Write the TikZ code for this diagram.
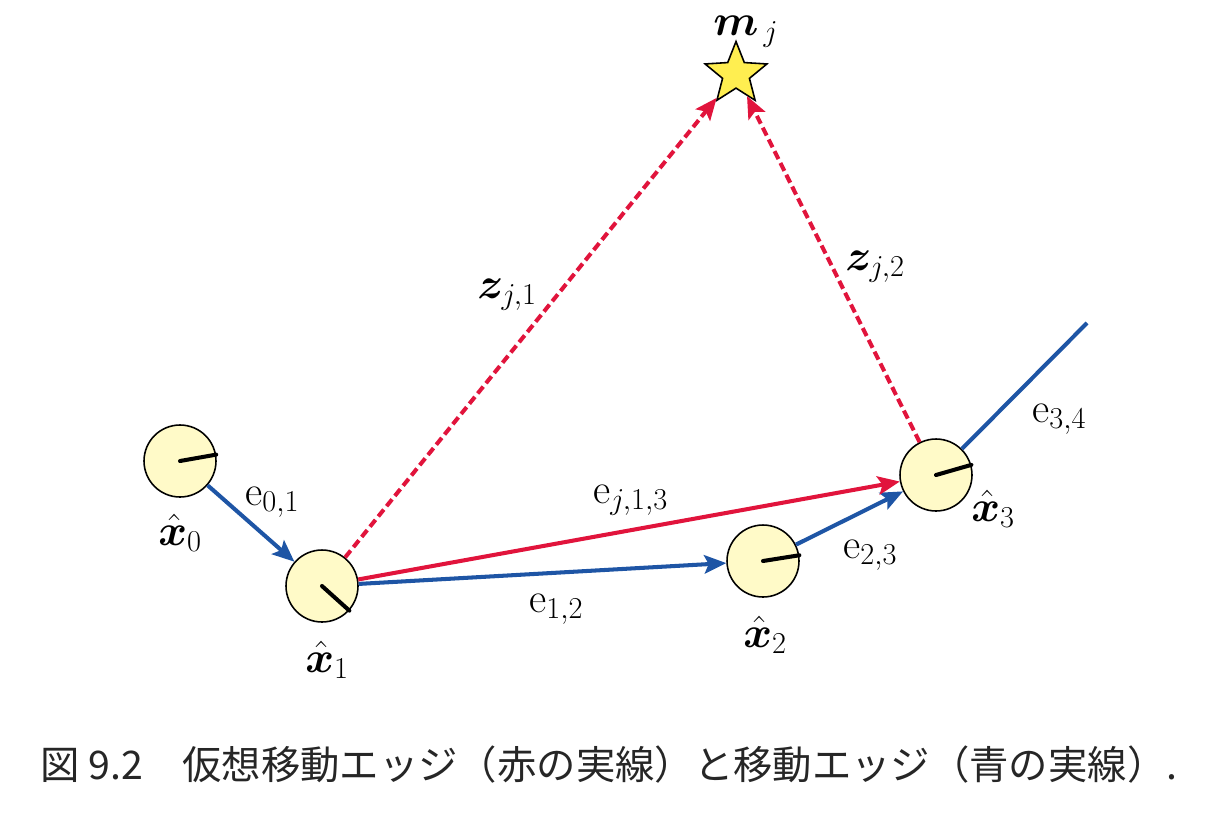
\documentclass[tikz,border=0pt]{standalone}
\usepackage{amsmath,bm}
\usepackage{fontspec}
\newfontfamily\cjk{Noto Sans CJK JP}
\usetikzlibrary{arrows.meta, shapes.geometric}
\definecolor{edgeblue}{RGB}{30,85,165}
\definecolor{edgered}{RGB}{225,20,60}
\definecolor{posefill}{RGB}{255,250,200}
\definecolor{starfill}{RGB}{255,238,80}

\begin{document}
\begin{tikzpicture}[x=0.02cm, y=-0.02cm,
pose/.style={draw, circle, fill=posefill, line width=0.9pt, minimum size=1.44cm, inner sep=0pt},
needle/.style={line width=2.3pt, line cap=round},
edge/.style={line width=2.3pt, edgeblue},
virtual/.style={line width=2.3pt, edgered},
obs/.style={line width=2.3pt, edgered, dash pattern=on 5pt off 2.5pt},
tip/.style={-{Stealth[length=12.5pt, width=10.5pt, inset=2.5pt]}},
lbl/.style={font=\fontsize{24}{28}\selectfont, inner sep=0pt, anchor=base west}]
\useasboundingbox (0,0) rectangle (1206,825);
% poses and landmark
\node[pose] (x0) at (180,461) {};
\node[pose] (x1) at (322,586) {};
\node[pose] (x2) at (763,561) {};
\node[pose] (x3) at (936,475) {};
\node[star, star points=5, star point ratio=2.3, draw, fill=starfill, line width=0.9pt, minimum size=1.3cm, inner sep=0pt] (mj) at (736,74) {};
\coordinate (x4) at (1087,323);
% heading of each pose
\draw[needle] (x0.center) -- (x0.10);
\draw[needle] (x1.center) -- (x1.-42);
\draw[needle] (x2.center) -- (x2.9);
\draw[needle] (x3.center) -- (x3.16);
% edges
\draw[edge, tip] (x0) -- (x1);
\draw[edge, tip] (x1) -- (x2);
\draw[edge, tip] (x2) -- (x3);
\draw[edge] (x3) -- (x4);
\draw[virtual, tip] (x1) -- (x3);
\draw[obs, tip] (x1) -- (mj);
\draw[obs, tip] (x3) -- (mj);
% labels
\node[lbl] (lm) at (713,35) {$\bm{m}_{\,j}$};
\node[lbl] (l0) at (158,545) {$\hat{\bm{x}}_0$};
\node[lbl] (l1) at (305,672) {$\hat{\bm{x}}_1$};
\node[lbl] (l2) at (743,647) {$\hat{\bm{x}}_2$};
\node[lbl] (l3) at (971,521) {$\hat{\bm{x}}_3$};
\node[lbl] (e01) at (245,505) {$\mathrm{e}_{0,1}$};
\node[lbl] (e12) at (529,612) {$\mathrm{e}_{1,2}$};
\node[lbl] (e23) at (843,558) {$\mathrm{e}_{2,3}$};
\node[lbl] (e34) at (1032,422) {$\mathrm{e}_{3,4}$};
\node[lbl] (ej13) at (593,503) {$\mathrm{e}_{j,1,3}$};
\node[lbl] (z1) at (477,298) {$\bm{z}_{j,1}$};
\node[lbl] (z2) at (845,270) {$\bm{z}_{j,2}$};
% caption
\node[inner sep=0pt, anchor=base west, text=black!85, font=\cjk\fontsize{22.4}{26}\selectfont] (cap) at (40,779) {図 9.2　仮想移動エッジ（赤の実線）と移動エッジ（青の実線）.};
\end{tikzpicture}
\end{document}
